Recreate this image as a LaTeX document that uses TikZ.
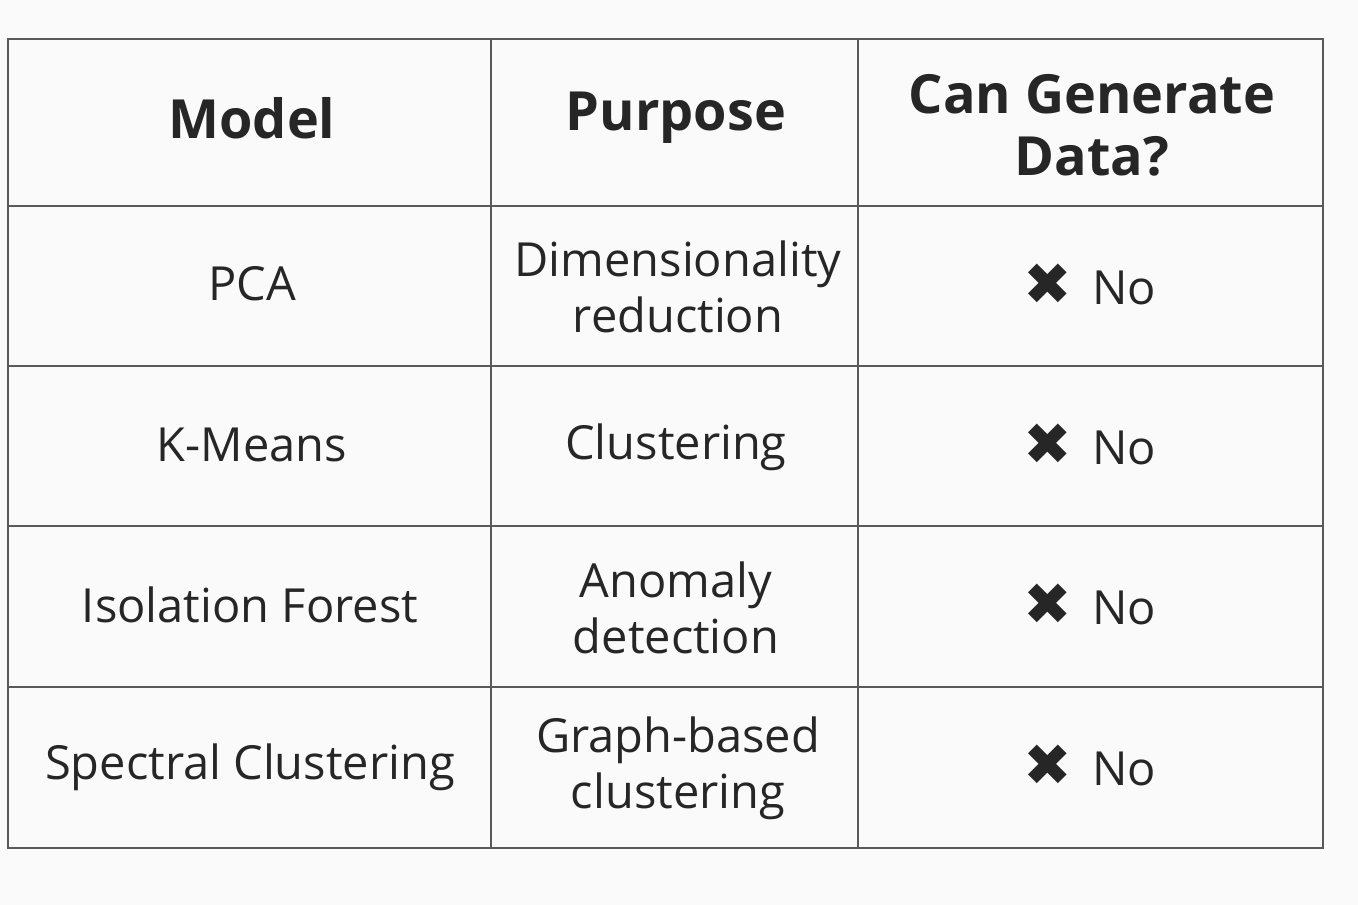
\documentclass[tikz,border=0pt]{standalone}
\usepackage{fontspec}
\setmainfont{Open Sans}
\newfontfamily\symfont{DejaVu Sans}
\begin{document}
\begin{tikzpicture}[x=1pt, y=-1pt,
  grid/.style={draw=black!65, line width=2.5pt},
  head/.style={font=\fontsize{54}{62}\selectfont\bfseries, align=center, text=black!85},
  cell/.style={font=\fontsize{47}{56}\selectfont, align=center, text=black!85}]
  \fill[black!2] (0,0) rectangle (1358,905);
  \useasboundingbox (0,0) rectangle (1358,905);
  % table lines
  \draw[grid] (8,39) rectangle (1323,848);
  \foreach \x in {491,858} \draw[grid] (\x,39) -- (\x,848);
  \foreach \y in {206,366,526,687} \draw[grid] (8,\y) -- (1323,\y);
  % header
  \node[head] (h1) at (252,118) {Model};
  \node[head] (h2) at (676,118) {Purpose};
  \node[head] (h3) at (1092,125) {Can Generate\\Data?};
  % rows
  \node[cell] (m1) at (252,284) {PCA};
  \node[cell] (p1) at (678,287) {Dimensionality\\reduction};
  \node[cell] (m2) at (252,445) {K-Means};
  \node[cell] (p2) at (676,447) {Clustering};
  \node[cell] (m3) at (250,605) {Isolation Forest};
  \node[cell] (p3) at (676,608) {Anomaly\\detection};
  \node[cell] (m4) at (250,767) {Spectral Clustering};
  \node[cell] (p4) at (678,768) {Graph-based\\clustering};
  \foreach \r/\y in {1/284,2/444,3/604,4/765}
    \node[cell] (g\r) at (1090,\y) {{\symfont\bfseries\fontsize{58}{58}\selectfont ✖}\, No};
\end{tikzpicture}
\end{document}
